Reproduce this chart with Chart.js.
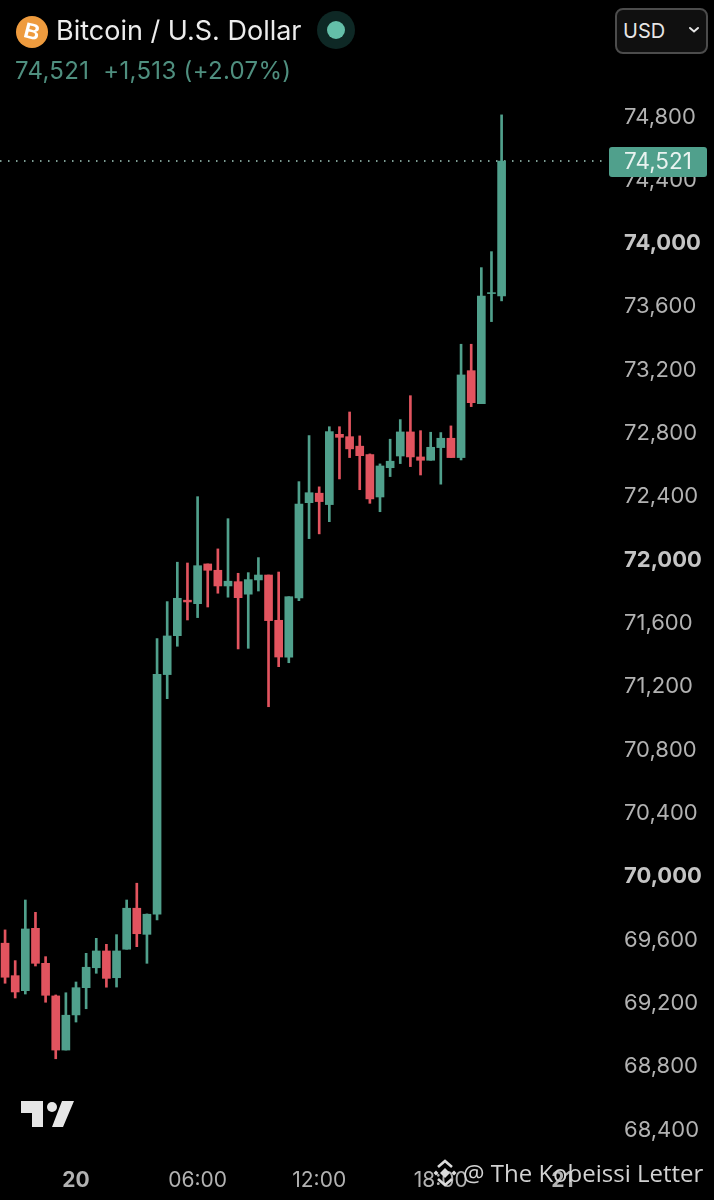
<!DOCTYPE html>
<html>
<head>
<meta charset="utf-8">
<title>Bitcoin / U.S. Dollar</title>
<script src="https://cdn.jsdelivr.net/npm/chart.js@4"></script>
<style>
  html, body { margin: 0; background: #000; }
  #page { position: relative; width: 714px; height: 1200px; overflow: hidden; font-family: Inter, sans-serif; }
  #chart { position: absolute; left: 0; top: 0; }
  #page > div, #page > svg { position: absolute; white-space: nowrap; }
  #coin { left: 16px; top: 16px; width: 32px; height: 32px; border-radius: 50%; background: #ee9b3e; color: #fff; font: bold 22px/32px "Liberation Sans", sans-serif; text-align: center; }
  #coin span { display: block; transform: rotate(14deg); }
  #title { left: 56px; top: 13px; font-size: 27px; line-height: 36px; color: #ececec; }
  #statusRing { left: 317px; top: 11px; width: 38px; height: 38px; border-radius: 50%; background: #0e2825; }
  #statusDot { left: 327px; top: 21px; width: 18px; height: 18px; border-radius: 50%; background: #64bfa9; }
  #quote { left: 15px; top: 56px; font-size: 24px; line-height: 30px; letter-spacing: 0.3px; color: #4f8f7f; }
  #currency { left: 615px; top: 8px; width: 89px; height: 42px; border: 2px solid #4c4c4c; border-radius: 8px; background: #101010; color: #e6e6e6; font-size: 20px; line-height: 42px; text-indent: 6px; }
  #watermark { left: 463px; top: 1157px; font-family: "Open Sans", sans-serif; font-size: 24px; line-height: 32px; color: #d2d2d2; }
</style>
</head>
<body>
<div id="page">
  <canvas id="chart" width="714" height="1200"></canvas>
  <div id="coin"><span>B</span></div>
  <div id="title">Bitcoin / U.S. Dollar</div>
  <div id="statusRing"></div>
  <div id="statusDot"></div>
  <div id="quote">74,521&nbsp; +1,513 (+2.07%)</div>
  <div id="currency">USD</div>
  <svg style="left:688px;top:26px" width="12" height="8" viewBox="0 0 12 8"><path d="M2 2l4 3.5L10 2" fill="none" stroke="#e6e6e6" stroke-width="2" stroke-linecap="round"/></svg>
  <svg style="left:0;top:1090px" width="90" height="45" viewBox="0 0 90 45">
    <path d="M21 11H43V37H32V23H21Z M74 11L63 37H52L62 11Z" fill="#e6e6e6"/>
    <circle cx="52" cy="17" r="5" fill="#e6e6e6"/>
  </svg>
  <svg style="left:433px;top:1158px" width="24" height="30" viewBox="0 0 24 30" fill="none" stroke="#dcdcdc" stroke-width="2.6">
    <path d="M5 9l7-6 7 6"/><path d="M5 21l7 6 7-6"/>
    <path d="M12 10l5 5-5 5-5-5z" fill="#dcdcdc" stroke="none"/>
    <path d="M3 12.5l2.5 2.5L3 17.500.5 15z M21 12.500l2.500 2.500-2.500 2.500-2.500-2.500z" fill="#dcdcdc" stroke="none"/>
  </svg>
  <div id="watermark">@ The Kobeissi Letter</div>
</div>
<script>
// 30 minute candles
const opens = [
  69580, 69375, 69280, 69674, 69453, 69247, 68905, 69127, 69299, 69425,
  69531, 69362, 69542, 69801, 69636, 69763, 71277, 71523, 71747, 71725,
  71976, 71936, 71837, 71864, 71785, 71875, 71906, 71620, 71387, 71761,
  72363, 72423, 72351, 72795, 72780, 72720, 72667, 72399, 72584, 72658,
  72810, 72652, 72631, 72711, 72770, 72648, 73197, 72989, 73684, 73669,
];
const highs = [
  69664, 69470, 69853, 69775, 69495, 69253, 69267, 69335, 69516, 69611,
  69573, 69634, 69853, 69959, 69765, 71504, 71738, 71987, 71982, 72401,
  71976, 72071, 72262, 71917, 71921, 72016, 71906, 71925, 71769, 72496,
  72787, 72463, 72843, 72843, 72936, 72785, 72671, 72608, 72764, 72888,
  73039, 72818, 72808, 72806, 72848, 73364, 73364, 73848, 73949, 74813,
];
const lows = [
  69327, 69234, 69259, 69436, 69207, 68850, 68905, 69082, 69166, 69390,
  69302, 69303, 69542, 69558, 69453, 69727, 71125, 71456, 71622, 71637,
  71704, 71791, 71766, 71439, 71443, 71805, 71074, 71327, 71352, 71744,
  72136, 72166, 72243, 72513, 72648, 72445, 72359, 72306, 72528, 72610,
  72591, 72538, 72631, 72480, 72648, 72633, 72970, 72989, 73507, 73638,
];
const closes = [
  69365, 69272, 69670, 69453, 69251, 68905, 69125, 69299, 69428, 69531,
  69358, 69531, 69801, 69640, 69763, 71279, 71521, 71759, 71736, 71965,
  71936, 71837, 71867, 71763, 71877, 71906, 71618, 71388, 71769, 72355,
  72426, 72370, 72812, 72776, 72703, 72660, 72387, 72595, 72625, 72810,
  72652, 72631, 72713, 72770, 72648, 73170, 72995, 73669, 73690, 74521,
];
const times = [
  "20:30", "21:00", "21:30", "22:00", "22:30", "23:00", "23:30", "20", "00:30", "01:00",
  "01:30", "02:00", "02:30", "03:00", "03:30", "04:00", "04:30", "05:00", "05:30", "06:00",
  "06:30", "07:00", "07:30", "08:00", "08:30", "09:00", "09:30", "10:00", "10:30", "11:00",
  "11:30", "12:00", "12:30", "13:00", "13:30", "14:00", "14:30", "15:00", "15:30", "16:00",
  "16:30", "17:00", "17:30", "18:00", "18:30", "19:00", "19:30", "20:00", "20:30", "21:00",
  "21:30", "22:00", "22:30", "23:00", "23:30", "21", "00:30", "01:00", "01:30", "02:00",
];
const shownTimes = ["20", "06:00", "12:00", "18:00", "21"];
const dayTimes = ["20", "21"];
const priceTicks = [
  68400, 68800, 69200, 69600, 70000, 70400, 70800, 71200, 71600,
  72000, 72400, 72800, 73200, 73600, 74000, 74400, 74800,
];
const boldPrices = [70000, 72000, 74000];
const lastPrice = 74521;

const UP = "#50a08c";
const DOWN = "#e2545f";
const TICK_COLOR = "#b2b2b2";
const BOLD_TICK_COLOR = "#c4c4c4";

const candleColors = opens.map((open, i) => (closes[i] >= open ? UP : DOWN));

// dotted last price line and the label on the price axis
const lastPricePlugin = {
  id: "lastPrice",
  beforeDatasetsDraw(chart) {
    const { ctx, chartArea } = chart;
    const y = chart.scales.y.getPixelForValue(lastPrice);
    ctx.save();
    ctx.strokeStyle = "#a5cfc4";
    ctx.lineWidth = 1.5;
    ctx.setLineDash([1.5, 6.5]);
    ctx.beginPath();
    ctx.moveTo(0, y);
    ctx.lineTo(chartArea.right, y);
    ctx.stroke();
    ctx.restore();
  },
  afterDraw(chart) {
    const { ctx, chartArea } = chart;
    const y = chart.scales.y.getPixelForValue(lastPrice);
    ctx.save();
    ctx.fillStyle = UP;
    ctx.beginPath();
    ctx.roundRect(chartArea.right + 1, y - 14, 98, 30, 3);
    ctx.fill();
    ctx.fillStyle = "#e9f3f0";
    ctx.font = "22.500px Inter";
    ctx.textBaseline = "middle";
    ctx.fillText(lastPrice.toLocaleString("en-US"), 624, y + 1);
    ctx.restore();
  },
};

new Chart(document.getElementById("chart"), {
  type: "bar",
  plugins: [lastPricePlugin],
  data: {
    labels: times,
    datasets: [
      {
        label: "wick",
        data: lows.map((low, i) => [low, highs[i]]),
        backgroundColor: candleColors,
        barThickness: 2,
        grouped: false,
        borderWidth: 0,
      },
      {
        label: "body",
        data: opens.map((open, i) => [open, closes[i]]),
        backgroundColor: candleColors,
        barThickness: 8,
        grouped: false,
        borderWidth: 0,
      },
    ],
  },
  options: {
    responsive: false,
    animation: false,
    layout: { padding: { top: 100 } },
    plugins: { legend: { display: false }, tooltip: { enabled: false } },
    scales: {
      x: {
        grid: { display: false, drawTicks: false },
        border: { display: false },
        afterFit(scale) {
          scale.height = 45;
          scale.paddingLeft = 0;
          scale.paddingRight = 0;
        },
        ticks: {
          autoSkip: false,
          maxRotation: 0,
          padding: 13,
          color: TICK_COLOR,
          callback(value) {
            const label = this.getLabelForValue(value);
            return shownTimes.includes(label) ? label : "";
          },
          font(context) {
            const bold = dayTimes.includes(times[context.index]);
            return { family: "Inter", size: 21, weight: bold ? "bold" : "normal" };
          },
        },
      },
      y: {
        position: "right",
        min: 68242,
        max: 74907,
        grid: { display: false, drawTicks: false },
        border: { display: false },
        afterFit(scale) {
          scale.width = 106;
        },
        afterBuildTicks(scale) {
          scale.ticks = priceTicks.map((value) => ({ value }));
        },
        ticks: {
          autoSkip: false,
          padding: 16,
          color(context) {
            return boldPrices.includes(context.tick.value) ? BOLD_TICK_COLOR : TICK_COLOR;
          },
          callback: (value) => value.toLocaleString("en-US"),
          font(context) {
            const bold = context.tick && boldPrices.includes(context.tick.value);
            return { family: "Inter", size: 22, weight: bold ? "bold" : "normal" };
          },
        },
      },
    },
  },
});
</script>
</body>
</html>
